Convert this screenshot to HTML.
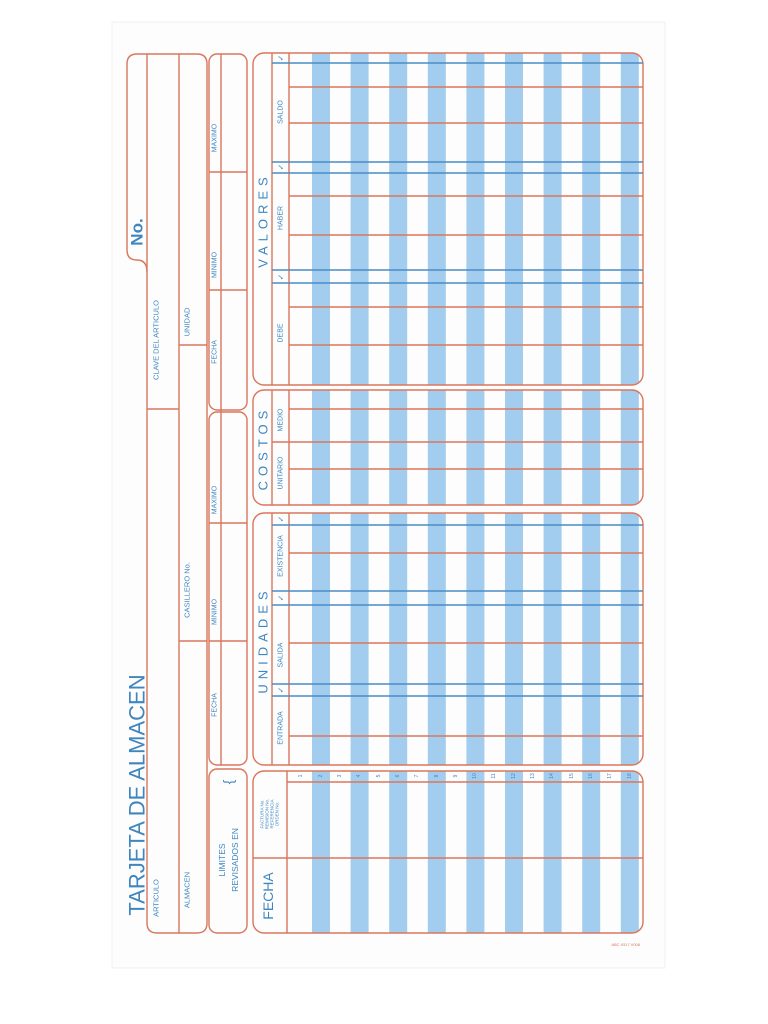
<!DOCTYPE html>
<html><head><meta charset="utf-8"><style>
html,body{margin:0;padding:0;background:#fff;}
svg{display:block;}
text{font-family:"Liberation Sans",Arial,sans-serif;fill:#3f86bf;}
</style></head><body>
<svg width="768" height="1024" viewBox="0 0 768 1024" xmlns="http://www.w3.org/2000/svg">
<rect x="0" y="0" width="768" height="1024" fill="#fff"/>
<rect x="112" y="22" width="553" height="946" fill="#fdfdfd" stroke="#f0f0f0"/>
<defs>
<clipPath id="cv"><rect x="253" y="53" width="390" height="332" rx="11"/></clipPath>
<clipPath id="cc"><rect x="253" y="390" width="390" height="115" rx="11"/></clipPath>
<clipPath id="cu"><rect x="253" y="513" width="390" height="252" rx="11"/></clipPath>
<clipPath id="cf"><rect x="253" y="771" width="390" height="162" rx="11"/></clipPath>
<g id="stripes" fill="#a2cdee">
<rect x="312" y="0" width="18" height="1024"/><rect x="350.6" y="0" width="18" height="1024"/>
<rect x="389.2" y="0" width="18" height="1024"/><rect x="427.8" y="0" width="18" height="1024"/>
<rect x="466.4" y="0" width="18" height="1024"/><rect x="505" y="0" width="18" height="1024"/>
<rect x="543.6" y="0" width="18" height="1024"/><rect x="582.2" y="0" width="18" height="1024"/>
<rect x="620.8" y="0" width="18" height="1024"/>
</g>
</defs>
<g clip-path="url(#cv)"><use href="#stripes"/></g>
<g clip-path="url(#cc)"><use href="#stripes"/></g>
<g clip-path="url(#cu)"><use href="#stripes"/></g>
<g clip-path="url(#cf)"><use href="#stripes"/></g>

<g fill="none" stroke="#d9765c" stroke-width="1.4">
<path d="M147 272 Q147 260 137 260 Q127 260 127 250 L127 64 Q127 54 137 54 L197 54 Q207 54 207 64 L207 923 Q207 933 197 933 L157 933 Q147 933 147 923 Z"/>
<line x1="147" y1="54" x2="147" y2="272"/>
<line x1="179" y1="54" x2="179" y2="933"/>
<line x1="147" y1="409" x2="179" y2="409"/>
<line x1="179" y1="345" x2="207" y2="345"/>
<line x1="179" y1="641" x2="207" y2="641"/>
<rect x="209" y="54" width="38" height="356" rx="8"/>
<rect x="209" y="412" width="38" height="353" rx="8"/>
<rect x="209" y="769" width="38" height="164" rx="8"/>
<line x1="221" y1="54" x2="221" y2="765"/>
<line x1="209" y1="172" x2="247" y2="172"/>
<line x1="209" y1="290" x2="247" y2="290"/>
<line x1="209" y1="523" x2="247" y2="523"/>
<line x1="209" y1="641" x2="247" y2="641"/>
<rect x="253" y="53" width="390" height="332" rx="11"/>
<rect x="253" y="390" width="390" height="115" rx="11"/>
<rect x="253" y="513" width="390" height="252" rx="11"/>
<rect x="253" y="771" width="390" height="162" rx="11"/>
<line x1="272" y1="53" x2="272" y2="385"/><line x1="289" y1="53" x2="289" y2="385"/>
<line x1="272" y1="390" x2="272" y2="505"/><line x1="289" y1="390" x2="289" y2="505"/>
<line x1="272" y1="513" x2="272" y2="765"/><line x1="289" y1="513" x2="289" y2="765"/>
<line x1="287" y1="771" x2="287" y2="933"/>
<line x1="289" y1="87" x2="643" y2="87"/><line x1="289" y1="123" x2="643" y2="123"/>
<line x1="289" y1="196" x2="643" y2="196"/><line x1="289" y1="235" x2="643" y2="235"/>
<line x1="289" y1="307" x2="643" y2="307"/><line x1="289" y1="345" x2="643" y2="345"/>
<line x1="289" y1="409" x2="643" y2="409"/><line x1="272" y1="442" x2="643" y2="442"/>
<line x1="289" y1="469" x2="643" y2="469"/>
<line x1="289" y1="553" x2="643" y2="553"/><line x1="289" y1="643" x2="643" y2="643"/>
<line x1="289" y1="736" x2="643" y2="736"/>
<line x1="287" y1="782" x2="643" y2="782"/><line x1="253" y1="858" x2="643" y2="858"/>
</g>
<g stroke="#4a8cc6" stroke-width="1.5">
<line x1="272" y1="63" x2="643" y2="63"/>
<line x1="272" y1="162" x2="643" y2="162"/><line x1="272" y1="173" x2="643" y2="173"/>
<line x1="272" y1="270" x2="643" y2="270"/><line x1="272" y1="283" x2="643" y2="283"/>
<line x1="272" y1="525" x2="643" y2="525"/>
<line x1="272" y1="591" x2="643" y2="591"/><line x1="272" y1="605" x2="643" y2="605"/>
<line x1="272" y1="684" x2="643" y2="684"/><line x1="272" y1="696" x2="643" y2="696"/>
</g>

<g text-anchor="middle" dominant-baseline="central">
<text transform="translate(137,795) rotate(-90)" font-size="22">TARJETA DE ALMACEN</text>
<text transform="translate(137,232) rotate(-90)" font-size="17" font-weight="bold">No.</text>
<text transform="translate(156,340) rotate(-90)" font-size="7.5">CLAVE DEL ARTICULO</text>
<text transform="translate(156,898) rotate(-90)" font-size="7.5">ARTICULO</text>
<text transform="translate(187,322) rotate(-90)" font-size="7.5">UNIDAD</text>
<text transform="translate(187,590) rotate(-90)" font-size="7.5">CASILLERO No.</text>
<text transform="translate(187,890) rotate(-90)" font-size="7.5">ALMACEN</text>
<text transform="translate(215,138) rotate(-90)" font-size="7">MAXIMO</text>
<text transform="translate(215,265) rotate(-90)" font-size="7">MINIMO</text>
<text transform="translate(215,352) rotate(-90)" font-size="7">FECHA</text>
<text transform="translate(215,500) rotate(-90)" font-size="7">MAXIMO</text>
<text transform="translate(215,612) rotate(-90)" font-size="7">MINIMO</text>
<text transform="translate(215,705) rotate(-90)" font-size="7">FECHA</text>
<text transform="translate(222,860) rotate(-90)" font-size="8.5">LIMITES</text>
<text transform="translate(235,860) rotate(-90)" font-size="8.5">REVISADOS EN</text>
<text transform="translate(228,782) rotate(-90)" font-size="14">{</text>
<text transform="translate(263,220) rotate(-90)" font-size="13" letter-spacing="5">VALORES</text>
<text transform="translate(263,448) rotate(-90)" font-size="13" letter-spacing="5">COSTOS</text>
<text transform="translate(263,640) rotate(-90)" font-size="13" letter-spacing="5">UNIDADES</text>
<text transform="translate(268,896) rotate(-90)" font-size="14">FECHA</text>
<text transform="translate(281,112) rotate(-90)" font-size="7">SALDO</text>
<text transform="translate(281,218) rotate(-90)" font-size="7">HABER</text>
<text transform="translate(281,333) rotate(-90)" font-size="7">DEBE</text>
<text transform="translate(281,420) rotate(-90)" font-size="7">MEDIO</text>
<text transform="translate(281,473) rotate(-90)" font-size="7">UNITARIO</text>
<text transform="translate(281,556) rotate(-90)" font-size="7">EXISTENCIA</text>
<text transform="translate(281,655) rotate(-90)" font-size="7">SALIDA</text>
<text transform="translate(281,728) rotate(-90)" font-size="7">ENTRADA</text>
<text transform="translate(262,814) rotate(-90)" font-size="4.5">FACTURA No.</text>
<text transform="translate(267,814) rotate(-90)" font-size="4.5">REMISION No.</text>
<text transform="translate(272,814) rotate(-90)" font-size="4.5">REFERENCIA</text>
<text transform="translate(277,814) rotate(-90)" font-size="4.5">ORDEN No.</text>
<text transform="translate(281,58) rotate(-90)" font-size="8">✓</text>
<text transform="translate(281,167) rotate(-90)" font-size="8">✓</text>
<text transform="translate(281,277) rotate(-90)" font-size="8">✓</text>
<text transform="translate(281,519) rotate(-90)" font-size="8">✓</text>
<text transform="translate(281,598) rotate(-90)" font-size="8">✓</text>
<text transform="translate(281,690) rotate(-90)" font-size="8">✓</text>
<g font-size="5">
<text transform="translate(301,776) rotate(-90)">1</text><text transform="translate(321,776) rotate(-90)">2</text>
<text transform="translate(340,776) rotate(-90)">3</text><text transform="translate(359,776) rotate(-90)">4</text>
<text transform="translate(379,776) rotate(-90)">5</text><text transform="translate(398,776) rotate(-90)">6</text>
<text transform="translate(417,776) rotate(-90)">7</text><text transform="translate(437,776) rotate(-90)">8</text>
<text transform="translate(456,776) rotate(-90)">9</text><text transform="translate(475,776) rotate(-90)">10</text>
<text transform="translate(494,776) rotate(-90)">11</text><text transform="translate(514,776) rotate(-90)">12</text>
<text transform="translate(533,776) rotate(-90)">13</text><text transform="translate(552,776) rotate(-90)">14</text>
<text transform="translate(572,776) rotate(-90)">15</text><text transform="translate(591,776) rotate(-90)">16</text>
<text transform="translate(610,776) rotate(-90)">17</text><text transform="translate(630,776) rotate(-90)">18</text>
</g>
</g>
<text x="640" y="946" font-size="4" text-anchor="end" style="fill:#d9765c">ABC 9317 V008</text>
</svg>
</body></html>
